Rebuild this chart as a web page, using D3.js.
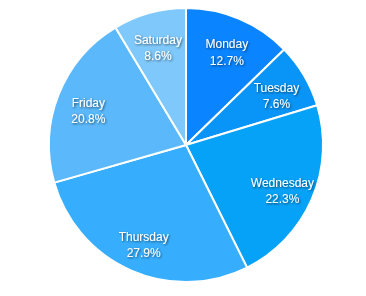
<!DOCTYPE html>
<html>
<meta charset="utf-8">
<style>
  body { margin: 0; background: #fff; }
  text { font-family: "Liberation Sans", Arial, sans-serif; font-size: 12px; fill: #fff; }
</style>
<body>
<svg width="366" height="296"></svg>
<script src="https://d3js.org/d3.v7.min.js"></script>
<script>
// data
const days = ["Monday", "Tuesday", "Wednesday", "Thursday", "Friday", "Saturday"];
const shares = [12.7, 7.6, 22.3, 27.9, 20.8, 8.6];
const colors = ["#0a84ff", "#0895f7", "#06a2f8", "#37aefd", "#5ab8fb", "#7fc8fb"];

const svg = d3.select("svg");
const cx = 186, cy = 145, radius = 137;

const defs = svg.append("defs");
const f = defs.append("filter").attr("id", "shadow").attr("x", "-20%").attr("y", "-20%").attr("width", "140%").attr("height", "140%");
f.append("feDropShadow").attr("dx", 1).attr("dy", 1).attr("stdDeviation", 0.8)
  .attr("flood-color", "#000").attr("flood-opacity", 0.6);

const data = days.map((d, i) => ({ day: d, value: shares[i] }));

const pie = d3.pie().value(d => d.value).sort(null);
const arc = d3.arc().innerRadius(0).outerRadius(radius);
const labelArc = d3.arc().innerRadius(105).outerRadius(105);

const g = svg.append("g").attr("transform", `translate(${cx},${cy})`);

const slices = g.selectAll("g.slice").data(pie(data)).enter().append("g").attr("class", "slice");

slices.append("path")
  .attr("d", arc)
  .attr("fill", (d, i) => colors[i])
  .attr("stroke", "#fff")
  .attr("stroke-width", 2)
  .attr("stroke-linejoin", "round");

const labels = g.selectAll("text.lbl").data(pie(data)).enter().append("text")
  .attr("class", "lbl")
  .attr("text-anchor", "middle")
  .attr("filter", "url(#shadow)")
  .attr("transform", d => {
    const c = labelArc.centroid(d);
    return `translate(${c[0]},${c[1] + 2.5})`;
  });

labels.append("tspan").attr("x", 0).attr("dy", "-0.2em").text(d => d.data.day);
labels.append("tspan").attr("x", 0).attr("dy", "1.35em").text(d => d.data.value.toFixed(1) + "%");
</script>
</body>
</html>
